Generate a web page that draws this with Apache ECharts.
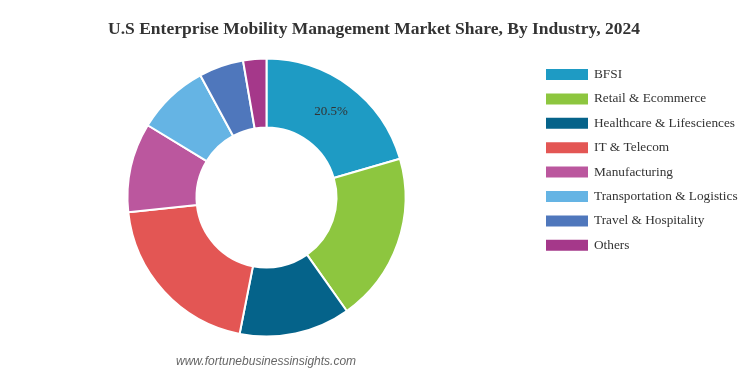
<!DOCTYPE html>
<html>
<head>
<meta charset="utf-8">
<script src="https://cdn.jsdelivr.net/npm/echarts@6/dist/echarts.min.js"></script>
<style>html,body{margin:0;padding:0;background:#fff}#c{width:748px;height:374px}</style>
</head>
<body>
<div id="c"></div>
<script>
var categories = ["BFSI", "Retail & Ecommerce", "Healthcare & Lifesciences", "IT & Telecom", "Manufacturing", "Transportation & Logistics", "Travel & Hospitality", "Others"];
var shares = [20.5, 19.7, 12.9, 20.2, 10.4, 8.4, 5.2, 2.7];
var colors = ["#1e9bc4", "#8dc63f", "#05638a", "#e35654", "#bb579e", "#65b4e4", "#4f77bc", "#a5388a"];
var labelled = ["BFSI"];

var chart = echarts.init(document.getElementById('c'), null, {renderer: 'canvas'});
chart.setOption({
  animation: false,
  title: {
    text: "U.S Enterprise Mobility Management Market Share, By Industry, 2024",
    left: 'center', top: 15,
    textStyle: {fontFamily: 'Liberation Serif', fontSize: 17.5, fontWeight: 'bold', color: '#333'}
  },
  graphic: [{
    type: 'text', left: 176, top: 356,
    style: {text: 'www.fortunebusinessinsights.com', font: 'italic 12px "Liberation Sans"', fill: '#666'}
  }],
  legend: {
    orient: 'vertical', left: 544, top: 67, padding: 0,
    itemWidth: 44, itemHeight: 13, itemGap: 9.4,
    icon: 'rect',
    textStyle: {fontFamily: 'Liberation Serif', fontSize: 13.3, color: '#333'},
    data: categories
  },
  series: [{
    type: 'pie',
    center: [266.5, 197.5],
    radius: [70, 139],
    startAngle: 90,
    clockwise: true,
    itemStyle: {borderColor: '#fff', borderWidth: 2},
    label: {
      show: true, position: 'inside',
      fontFamily: 'Liberation Serif', fontSize: 13, color: '#333',
      formatter: function (p) { return labelled.indexOf(p.name) >= 0 ? p.value + '%' : ''; }
    },
    labelLine: {show: false},
    data: categories.map(function (n, i) { return {name: n, value: shares[i], itemStyle: {color: colors[i]}}; })
  }]
});
</script>
</body>
</html>
